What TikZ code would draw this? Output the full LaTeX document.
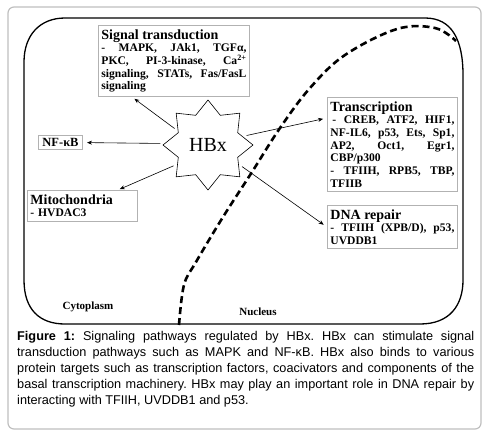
\documentclass[tikz,border=0pt]{standalone}
\usepackage{fontspec}
\setmainfont{Liberation Serif}
\newfontfamily\capfont{Liberation Sans}
\usetikzlibrary{shapes.geometric,arrows.meta}

\newcommand{\boxhead}[1]{{\fontsize{14}{15}\selectfont #1}}

\begin{document}
\frenchspacing
\begin{tikzpicture}[x=1pt, y=-1pt,
	box/.style={draw=black!30, line width=0.9pt, fill=white, anchor=north west, align=justify, inner xsep=3pt, inner ysep=4pt, font=\fontsize{11.6}{12.7}\selectfont\bfseries},
	arr/.style={-{Stealth[length=5pt, width=4pt]}, semithick, shorten <=4pt}]
	\useasboundingbox (0,0) rectangle (490,437);
	\draw[black!25, line width=1.2pt, rounded corners=6pt] (8,7) rectangle (481,429);
	% cell outline
	\draw[line width=1.3pt] (24,62) -- (24,280) .. controls (24,310) and (40,324) .. (65,324) -- (420,324)
		.. controls (450,324) and (463,305) .. (463,280) -- (463,75) .. controls (463,40) and (452,18) .. (425,18)
		-- (65,18) .. controls (40,18) and (24,35) .. (24,62) -- cycle;
	% nuclear border
	\draw[line width=2.6pt, dash pattern=on 7pt off 4pt] plot[smooth, tension=0.6] coordinates {(179,325) (184,285) (196,262) (223,217) (252,172) (280,128) (310,88) (345,55) (397,29) (435,28) (456,41)};
	\node[box, text width=145pt] (sig) at (98,25) {\boxhead{Signal transduction}\\
		- MAPK, JAk1, TGFα,\linebreak PKC, PI-3-kinase, Ca\textsuperscript{2+}\linebreak signaling, STATs, Fas/FasL\linebreak signaling};
	\node[box, text width=124pt] (trans) at (327,97) {\boxhead{Transcription}\\
		\hspace*{2pt}- CREB, ATF2, HIF1,\linebreak NF-IL6, p53, Ets, Sp1,\linebreak AP2, Oct1, Egr1,\linebreak CBP/p300\\
		- TFIIH, RPB5, TBP,\linebreak TFIIB};
	\node[box, text width=124pt] (dna) at (327,205) {\boxhead{DNA repair}\\
		- TFIIH (XPB/D), p53,\linebreak UVDDB1};
	\node[box, align=left, inner xsep=4pt, inner ysep=3pt, font=\fontsize{12.5}{14}\selectfont\bfseries] (nfkb) at (38,135) {NF-κB};
	\node[box, align=left, text width=104pt] (mito) at (27,190) {\boxhead{Mitochondria}\\ - HVDAC3};
	\node[star, star points=8, star point ratio=1.4, draw, semithick, fill=white, minimum size=90pt, inner sep=0pt, font=\fontsize{20}{22}\selectfont] (hbx) at (208,145) {HBx};
	\draw[arr, shorten >=3pt] (hbx.155) -- ([xshift=34pt]sig.south west);
	\draw[arr, shorten >=4pt] (hbx.178) -- (nfkb.east);
	\draw[arr, shorten >=2pt] (hbx.212) -- ([xshift=-20pt]mito.north east);
	\draw[arr, shorten >=4pt] (hbx.14) -- ([yshift=-21pt]trans.north west);
	\draw[arr, shorten >=4pt] (hbx.328) -- (dna.west);
	\node[font=\fontsize{11}{12}\selectfont\bfseries] (cyto) at (88,307) {Cytoplasm};
	\node[font=\fontsize{11}{12}\selectfont\bfseries] (nucl) at (258,312) {Nucleus};
	\node[anchor=north west, text width=457pt, align=justify, inner sep=0pt, font=\capfont\fontsize{12.7}{16}\selectfont] (cap) at (17,331) {\textbf{Figure 1:} Signaling pathways regulated by HBx. HBx can stimulate signal\linebreak transduction pathways such as MAPK and NF-κB. HBx also binds to various\linebreak protein targets such as transcription factors, coacivators and components of the\linebreak basal transcription machinery. HBx may play an important role in DNA repair by\linebreak interacting with TFIIH, UVDDB1 and p53.};
\end{tikzpicture}
\end{document}
